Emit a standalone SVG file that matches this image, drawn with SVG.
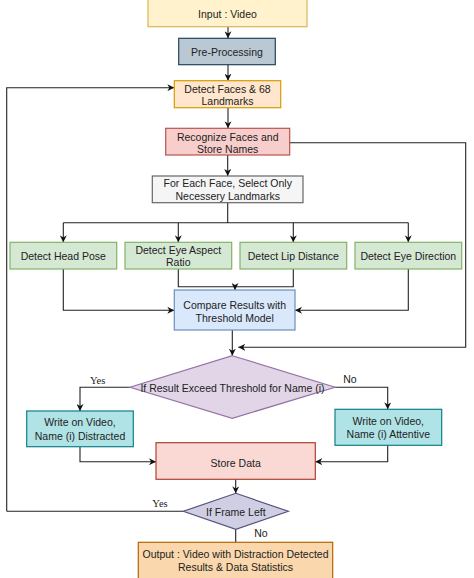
<svg xmlns="http://www.w3.org/2000/svg" width="474" height="578" viewBox="0 0 474 578">
<defs>
<marker id="ah" viewBox="0 0 10 10" refX="10" refY="5" markerWidth="7" markerHeight="7" orient="auto" markerUnits="userSpaceOnUse">
<path d="M0,0 L10,5 L0,10 L3,5 Z" fill="#111"/>
</marker>
<style>
text{font-family:"Liberation Sans",Arial,sans-serif;font-size:10.5px;fill:#222;text-anchor:middle;dominant-baseline:central}
.lbl{font-family:"Liberation Serif","Times New Roman",serif;font-size:10.5px}
.c{fill:none;stroke:#222;stroke-width:1.1}
.a{marker-end:url(#ah)}
rect,polygon{stroke-width:1.2}
</style>
</defs>
<rect width="474" height="578" fill="#fff"/>
<g id="connectors">
<path class="c a" d="M228,26.7 V38.3"/>
<path class="c a" d="M228,64.7 V80.7"/>
<path class="c a" d="M6.7,511.3 V87.7 H174.3"/>
<path class="c a" d="M228,107.7 V128.3"/>
<path class="c a" d="M289.7,142.7 H465.7 V347.3 H238.3"/>
<path class="c a" d="M227.7,155 V176"/>
<path class="c" d="M227.7,202.7 V222.7 M63.3,222.7 H408.3"/>
<path class="c a" d="M63.3,222.7 V242.3"/>
<path class="c a" d="M178.3,222.7 V242.3"/>
<path class="c a" d="M293.3,222.7 V242.3"/>
<path class="c a" d="M408.3,222.7 V242.3"/>
<path class="c" d="M178.3,269 V286.7 H293.3 V269"/>
<path class="c a" d="M235,286.7 V290"/>
<path class="c a" d="M63.3,269 V310.3 H174.3"/>
<path class="c a" d="M408.3,269 V310.3 H295"/>
<path class="c a" d="M232.3,330 V355.7"/>
<path class="c a" d="M130,387.3 H80 V411"/>
<path class="c a" d="M335,387.3 H387.7 V409.3"/>
<path class="c a" d="M80,446.7 V461.7 H156"/>
<path class="c a" d="M387.7,445.3 V461.7 H315.3"/>
<path class="c a" d="M235.7,479.3 V493.3"/>
<path class="c" d="M183.3,511.3 H6.7"/>
<path class="c" d="M235.7,529.3 V542.3"/>
<text class="lbl" x="97.7" y="380">Yes</text>
<text x="350" y="379">No</text>
<text class="lbl" x="160" y="503.3">Yes</text>
<text x="261" y="532.7">No</text>
</g>
<g id="input"><rect x="148" y="-5" width="159" height="31.7" fill="#fff2cc" stroke="#d6b656"/><text x="227.5" y="14">Input : Video</text></g>
<g id="preprocessing"><rect x="178.7" y="38.3" width="96.6" height="26.4" fill="#bac8d3" stroke="#23445d"/><text x="227" y="51.8">Pre-Processing</text></g>
<g id="detectfaces"><rect x="174.3" y="80.7" width="106.4" height="27" fill="#ffe6cc" stroke="#d79b00"/><text x="227.5" y="89.3">Detect Faces &amp; 68</text><text x="227.5" y="101.3">Landmarks</text></g>
<g id="recognize"><rect x="165.7" y="128.3" width="124" height="26.7" fill="#f8cecc" stroke="#b85450"/><text x="227.7" y="136.7">Recognize Faces and</text><text x="227.7" y="149.3">Store Names</text></g>
<g id="select"><rect x="152.3" y="176" width="150.7" height="26.7" fill="#f5f5f5" stroke="#666"/><text x="227.7" y="183.3">For Each Face, Select Only</text><text x="227.7" y="196">Necessery Landmarks</text></g>
<g id="headpose"><rect x="10" y="242.3" width="106.7" height="26.7" fill="#d5e8d4" stroke="#82b366"/><text x="63.3" y="256">Detect Head Pose</text></g>
<g id="eyeaspect"><rect x="125" y="242.3" width="106.7" height="26.7" fill="#d5e8d4" stroke="#82b366"/><text x="178.3" y="250">Detect Eye Aspect</text><text x="178.3" y="262.3">Ratio</text></g>
<g id="lip"><rect x="240" y="242.3" width="106.7" height="26.7" fill="#d5e8d4" stroke="#82b366"/><text x="293.3" y="256">Detect Lip Distance</text></g>
<g id="eyedir"><rect x="355" y="242.3" width="106.7" height="26.7" fill="#d5e8d4" stroke="#82b366"/><text x="408.3" y="256">Detect Eye Direction</text></g>
<g id="compare"><rect x="174.3" y="290" width="120.7" height="40" fill="#dae8fc" stroke="#6c8ebf"/><text x="234.7" y="305">Compare Results with</text><text x="234.7" y="317.7">Threshold Model</text></g>
<g id="decision1"><polygon points="232.3,355.7 335,387.3 232.3,418.3 130,387.3" fill="#e1d5e7" stroke="#9673a6"/><text x="232.5" y="387.5">If Result Exceed Threshold for Name (i)</text></g>
<g id="distracted"><rect x="26.7" y="411" width="106.6" height="35.7" fill="#b0e3e6" stroke="#0e8088"/><text x="80" y="422.3">Write on Video,</text><text x="80" y="436">Name (i) Distracted</text></g>
<g id="attentive"><rect x="335" y="409.3" width="106.7" height="36" fill="#b0e3e6" stroke="#0e8088"/><text x="388.3" y="421">Write on Video,</text><text x="388.3" y="434.3">Name (i)  Attentive</text></g>
<g id="store"><rect x="156" y="442.7" width="159.3" height="36.6" fill="#fad9d5" stroke="#ae4132"/><text x="235.7" y="462.7">Store Data</text></g>
<g id="decision2"><polygon points="235.8,493.3 288.3,511.3 235.8,529.3 183.3,511.3" fill="#d0cee2" stroke="#56517e"/><text x="235.8" y="512">If Frame Left</text></g>
<g id="output"><rect x="138.3" y="542.3" width="194.4" height="45" fill="#fad7ac" stroke="#b46504"/><text x="235.5" y="554.3">Output : Video with Distraction Detected</text><text x="235.5" y="566.7">Results &amp; Data Statistics</text></g>
</svg>
